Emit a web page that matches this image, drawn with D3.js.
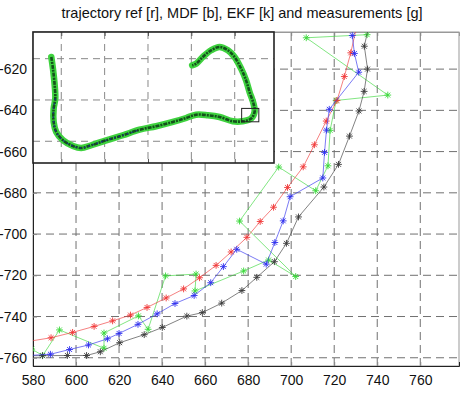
<!DOCTYPE html>
<html>
<head>
<meta charset="utf-8">
<script src="https://cdn.jsdelivr.net/npm/d3@7"></script>
<style>
  body { margin: 0; background: #fff; }
  svg { display: block; font-family: "Liberation Sans", Arial, sans-serif; }
</style>
</head>
<body>
<script>
// trajectory ref [r]
const refX = [574.0, 588.4, 598.4, 608.4, 617.0, 625.3, 633.0, 641.9, 650.0, 657.4, 665.1, 672.1, 679.4, 685.6, 691.8, 698.3, 705.6, 710.8, 716.3, 721.3, 724.7, 727.7, 730.2];
const refY = [-752.7, -750.3, -747.7, -744.8, -742.1, -739.3, -735.6, -731.0, -726.6, -721.2, -715.2, -708.7, -701.6, -693.9, -687.0, -677.4, -667.4, -656.7, -645.2, -635.2, -623.6, -612.1, -600.4];
// MDF [b]
const mdfX = [576.3, 588.1, 597.0, 605.8, 614.6, 620.0, 628.8, 637.7, 646.0, 654.9, 662.6, 668.5, 674.7, 688.4, 692.4, 696.3, 699.5, 714.7, 715.5, 716.4, 717.7, 731.4, 729.4, 728.4];
const mdfY = [-759.0, -758.3, -756.0, -753.8, -750.8, -748.2, -743.8, -738.7, -733.7, -729.8, -723.6, -715.8, -707.4, -714.6, -704.1, -693.6, -681.9, -672.8, -660.4, -649.6, -639.5, -621.5, -612.4, -603.7];
// EKF [k]
const ekfX = [574.0, 584.4, 596.0, 604.9, 611.3, 620.3, 631.7, 640.1, 651.5, 658.7, 667.7, 677.1, 684.0, 692.2, 697.8, 703.4, 715.2, 722.0, 727.1, 731.5, 733.9, 735.5, 734.0, 735.8];
const ekfY = [-759.0, -759.0, -758.9, -758.9, -757.1, -752.7, -748.8, -745.3, -739.8, -738.1, -733.5, -727.4, -721.0, -713.4, -704.5, -691.7, -677.2, -666.2, -652.5, -640.3, -630.8, -620.0, -608.9, -600.4];
// measurements [g]
const measX = [579.4, 584.5, 592.3, 613.0, 613.0, 629.0, 633.5, 641.6, 655.8, 655.3, 677.9, 689.5, 702.1, 676.0, 694.2, 711.4, 717.1, 718.1, 720.9, 744.9, 707.0, 735.3];
const measY = [-755.8, -758.9, -746.5, -755.4, -748.0, -739.7, -746.2, -720.3, -719.4, -727.6, -717.9, -712.6, -720.6, -693.7, -667.5, -679.0, -666.9, -649.7, -635.2, -632.6, -604.8, -603.3];

// whole trajectory shown in the inset
const insetX = [-1615, -1596, -1576, -1569, -1588, -1588, -1558, -1480, -1365, -1270, -1154, -982, -789, -597, -406, -213, -60, 55, 190, 325, 478, 590, 690, 730, 717, 671, 631, 574, 498, 421, 325, 228, 132, 55, 9];
const insetY = [21, -121, -322, -484, -605, -766, -887, -988, -1057, -1081, -1048, -988, -927, -860, -818, -766, -718, -678, -685, -706, -758, -758, -725, -640, -545, -403, -262, -121, 21, 102, 142, 102, 21, -61, -80];

const xTicks = [580, 600, 620, 640, 660, 680, 700, 720, 740, 760];
const yTicks = [-760, -740, -720, -700, -680, -660, -640, -620];
const insetXTicks = [-1500, -1000, -500, 0, 500];
const insetYTicks = [-1000, -500, 0];

const title = "trajectory ref [r], MDF [b], EKF [k] and measurements [g]";

const width = 474, height = 398;
const margin = { top: 32, right: 15, bottom: 32, left: 33 };

const svg = d3.select("body").append("svg")
  .attr("width", width)
  .attr("height", height);

const x = d3.scaleLinear().domain([580, 778]).range([margin.left, width - margin.right]);
const y = d3.scaleLinear().domain([-764, -602]).range([height - margin.bottom, margin.top]);

svg.append("defs").append("clipPath").attr("id", "clip")
  .append("rect")
  .attr("x", margin.left).attr("y", margin.top)
  .attr("width", width - margin.left - margin.right)
  .attr("height", height - margin.top - margin.bottom);

// grid
const grid = svg.append("g").attr("stroke", "#707070").attr("stroke-dasharray", "8,5").attr("stroke-width", 1);
grid.selectAll("line.vx").data(xTicks.slice(1)).join("line")
  .attr("x1", d => x(d)).attr("x2", d => x(d))
  .attr("y1", y.range()[0]).attr("y2", y.range()[1]);
grid.selectAll("line.hy").data(yTicks).join("line")
  .attr("y1", d => y(d)).attr("y2", d => y(d))
  .attr("x1", x.range()[0]).attr("x2", x.range()[1]);

// axes box
svg.append("rect")
  .attr("x", margin.left).attr("y", margin.top)
  .attr("width", width - margin.left - margin.right)
  .attr("height", height - margin.top - margin.bottom)
  .attr("fill", "none").attr("stroke", "#999");

const xAxis = svg.append("g")
  .attr("transform", `translate(0,${height - margin.bottom})`)
  .call(d3.axisBottom(x).tickValues(xTicks).tickSize(-4).tickPadding(9));
const yAxis = svg.append("g")
  .attr("transform", `translate(${margin.left},0)`)
  .call(d3.axisLeft(y).tickValues(yTicks).tickSize(-4).tickPadding(6)
    .tickFormat(d => "-" + Math.abs(d)));
const topAxis = svg.append("g")
  .attr("transform", `translate(0,${margin.top})`)
  .call(d3.axisTop(x).tickValues(xTicks).tickSize(-4).tickFormat(""));
topAxis.select(".domain").attr("stroke", "#999");
topAxis.selectAll("line").attr("stroke", "#888");
[xAxis, yAxis].forEach(a => {
  a.select(".domain").attr("stroke", "#222");
  a.selectAll(".tick line").attr("stroke", "#888");
  a.selectAll("text").attr("font-size", 14).attr("fill", "#111")
    .attr("font-family", "\"Liberation Sans\", Arial, sans-serif");
});

// asterisk marker
function star(s) {
  const d = s * 0.72;
  return `M${-s},0H${s}M0,${-s}V${s}M${-d},${-d}L${d},${d}M${-d},${d}L${d},${-d}`;
}

const series = [
  { xs: measX, ys: measY, color: "#3ad83a" },
  { xs: refX, ys: refY, color: "#f03838" },
  { xs: ekfX, ys: ekfY, color: "#3a3a3a" },
  { xs: mdfX, ys: mdfY, color: "#3030ee" }
];

const plot = svg.append("g").attr("clip-path", "url(#clip)");
const line = d3.line().x(d => x(d[0])).y(d => y(d[1]));
series.forEach(s => {
  const pts = d3.zip(s.xs, s.ys);
  plot.append("path")
    .attr("d", line(pts))
    .attr("fill", "none")
    .attr("stroke", s.color)
    .attr("stroke-width", 0.8)
    .attr("stroke-opacity", 0.8);
  plot.append("g").selectAll("path").data(pts).join("path")
    .attr("transform", d => `translate(${x(d[0])},${y(d[1])})`)
    .attr("d", star(3.4))
    .attr("stroke", s.color)
    .attr("stroke-width", 0.9)
    .attr("fill", "none");
});

// inset
const inset = { left: 33, right: 274, top: 32, bottom: 163 };
const ix = d3.scaleLinear().domain([-1826, 953]).range([inset.left, inset.right]);
const iy = d3.scaleLinear().domain([-1263, 323]).range([inset.bottom, inset.top]);
const ig = svg.append("g");
ig.append("rect")
  .attr("x", inset.left).attr("y", inset.top)
  .attr("width", inset.right - inset.left).attr("height", inset.bottom - inset.top)
  .attr("fill", "#fff");
const igrid = ig.append("g").attr("stroke", "#888").attr("stroke-dasharray", "7,5");
igrid.selectAll("line.v").data(insetXTicks).join("line")
  .attr("x1", d => ix(d)).attr("x2", d => ix(d))
  .attr("y1", inset.top).attr("y2", inset.bottom);
igrid.selectAll("line.h").data(insetYTicks).join("line")
  .attr("y1", d => iy(d)).attr("y2", d => iy(d))
  .attr("x1", inset.left).attr("x2", inset.right);
ig.append("g").attr("transform", `translate(0,${inset.top})`)
  .call(d3.axisTop(ix).tickValues(insetXTicks).tickSize(-4).tickFormat(""))
  .call(g => g.select(".domain").remove())
  .selectAll("line").attr("stroke", "#555");
ig.append("g").attr("transform", `translate(0,${inset.bottom})`)
  .call(d3.axisBottom(ix).tickValues(insetXTicks).tickSize(-4).tickFormat(""))
  .call(g => g.select(".domain").remove())
  .selectAll("line").attr("stroke", "#555");

const ipts = d3.zip(insetX, insetY);
const iline = d3.line().x(d => ix(d[0])).y(d => iy(d[1])).curve(d3.curveCatmullRom);
ig.append("path").attr("d", iline(ipts)).attr("fill", "none")
  .attr("stroke", "#3fd23f").attr("stroke-width", 6.5).attr("stroke-linecap", "round");
ig.append("path").attr("d", iline(ipts)).attr("fill", "none")
  .attr("stroke", "#14501c").attr("stroke-width", 2.6).attr("stroke-dasharray", "4,1,2,1");
ig.append("path").attr("d", iline(ipts.slice(3, 14))).attr("fill", "none")
  .attr("stroke", "#1a2a8a").attr("stroke-width", 1.4).attr("stroke-dasharray", "1.5,3");

// zoom region box
ig.append("rect")
  .attr("x", ix(580)).attr("y", iy(-602))
  .attr("width", ix(778) - ix(580)).attr("height", iy(-764) - iy(-602))
  .attr("fill", "none").attr("stroke", "#222").attr("stroke-width", 1);

ig.append("rect")
  .attr("x", inset.left).attr("y", inset.top)
  .attr("width", inset.right - inset.left).attr("height", inset.bottom - inset.top)
  .attr("fill", "none").attr("stroke", "#222").attr("stroke-width", 1.6);

svg.append("text")
  .attr("x", 242).attr("y", 18)
  .attr("text-anchor", "middle")
  .attr("font-size", 14.5)
  .attr("fill", "#111")
  .text(title);
</script>
</body>
</html>
